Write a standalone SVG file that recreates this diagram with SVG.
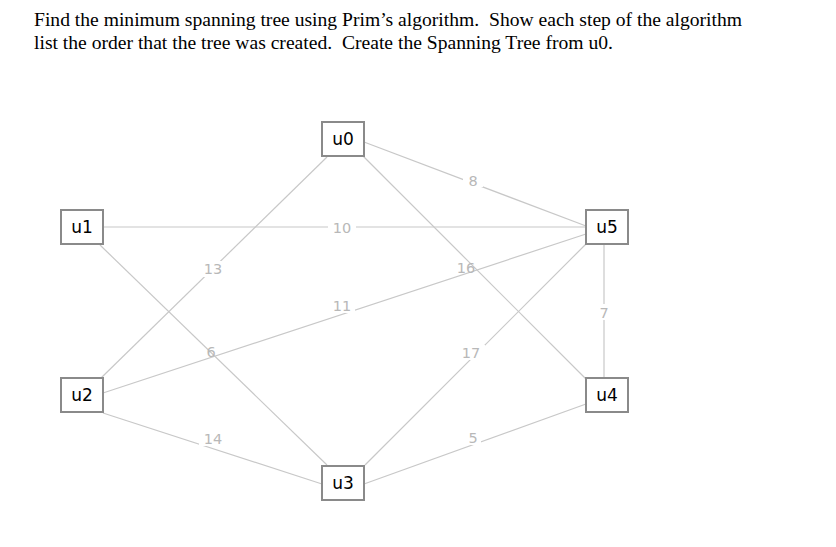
<svg xmlns="http://www.w3.org/2000/svg" width="836" height="547" viewBox="0 0 836 547">
<style>
.t{font-family:"Liberation Serif",serif;font-size:19.6px;fill:#000;white-space:pre}
.n rect{fill:#fff;stroke:#8a8a8a;stroke-width:2}
.n text{font-family:"DejaVu Sans",sans-serif;font-size:17px;fill:#000;text-anchor:middle}
.e line{stroke:#c8c8c8;stroke-width:1.2}
.l{font-family:"DejaVu Sans",sans-serif;font-size:14.5px;fill:#b8b8b8;text-anchor:middle}
.lb{fill:#fff}
</style>
<rect width="836" height="547" fill="#fff"/>
<text class="t" x="34" y="26" xml:space="preserve">Find the minimum spanning tree using Prim’s algorithm.  Show each step of the algorithm</text>
<text class="t" x="34" y="49" xml:space="preserve">list the order that the tree was created.  Create the Spanning Tree from u0.</text>
<g id="connectors" class="e">
<line x1="364" y1="142" x2="586" y2="226"/>
<line x1="103" y1="227" x2="586" y2="227"/>
<line x1="327" y1="157" x2="100" y2="379"/>
<line x1="363" y1="156" x2="587" y2="380"/>
<line x1="103" y1="393" x2="586" y2="234"/>
<line x1="100" y1="245" x2="327" y2="465"/>
<line x1="604" y1="244" x2="604" y2="378"/>
<line x1="586" y1="244" x2="365" y2="465"/>
<line x1="103" y1="413" x2="322" y2="484"/>
<line x1="364" y1="484" x2="586" y2="404"/>
<g>
<rect class="lb" x="463" y="172" width="20" height="15"/><text class="l" x="473" y="186">8</text>
<rect class="lb" x="328" y="220" width="28" height="15"/><text class="l" x="342" y="233">10</text>
<rect class="lb" x="199" y="261" width="28" height="16"/><text class="l" x="213" y="274">13</text>
<text class="l" x="466" y="273">16</text>
<rect class="lb" x="329" y="298" width="26" height="15"/><text class="l" x="342" y="311">11</text>
<text class="l" x="211" y="357">6</text>
<rect class="lb" x="597" y="304" width="14" height="16"/><text class="l" x="604" y="318">7</text>
<rect class="lb" x="457" y="345" width="28" height="15"/><text class="l" x="471" y="358">17</text>
<rect class="lb" x="199" y="431" width="28" height="15"/><text class="l" x="213" y="444">14</text>
<rect class="lb" x="465" y="430" width="16" height="15"/><text class="l" x="473" y="443">5</text>
</g>
</g>
<g id="u0" class="n"><rect x="322" y="122" width="42" height="34"/><text x="343" y="145">u0</text></g>
<g id="u1" class="n"><rect x="61" y="210" width="42" height="34"/><text x="82" y="233">u1</text></g>
<g id="u5" class="n"><rect x="586" y="210" width="42" height="34"/><text x="607" y="233">u5</text></g>
<g id="u2" class="n"><rect x="61" y="378" width="42" height="34"/><text x="82" y="401">u2</text></g>
<g id="u4" class="n"><rect x="586" y="378" width="42" height="34"/><text x="607" y="401">u4</text></g>
<g id="u3" class="n"><rect x="322" y="466" width="42" height="34"/><text x="343" y="489">u3</text></g>
</svg>
